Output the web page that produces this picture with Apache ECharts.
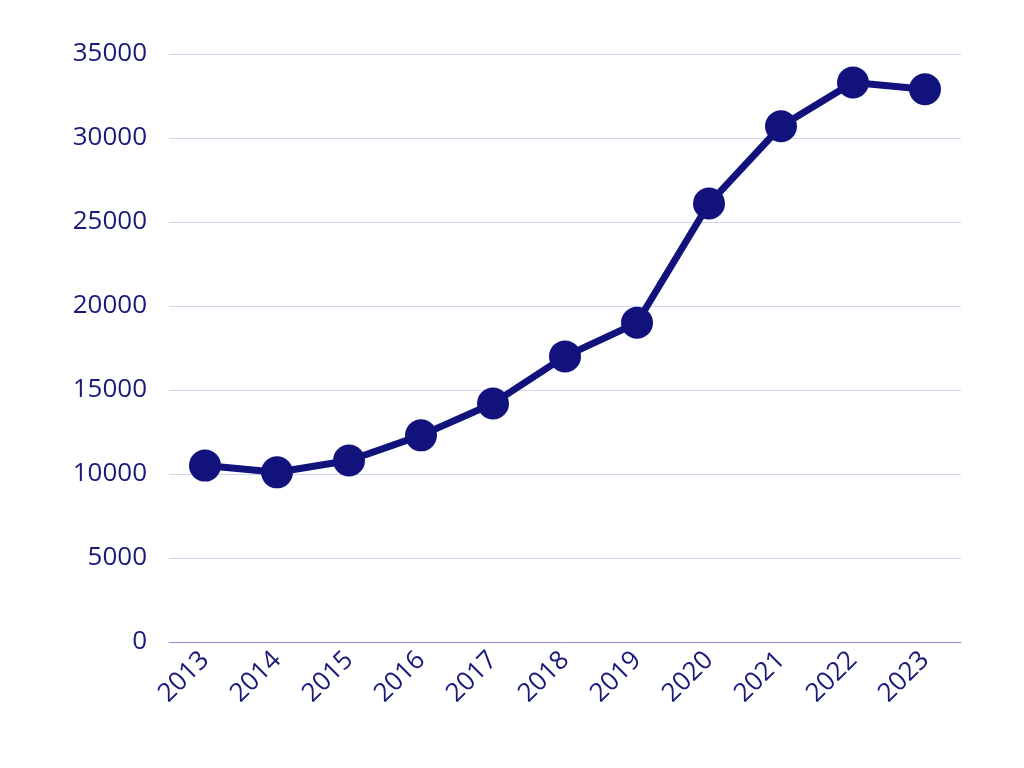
<!DOCTYPE html>
<html><head><meta charset="utf-8">
<script src="https://cdn.jsdelivr.net/npm/echarts@6/dist/echarts.min.js"></script>
<style>html,body{margin:0;padding:0;background:#fff}#c{width:1024px;height:768px}</style>
</head><body><div id="c"></div>
<script>
const years = ['2013','2014','2015','2016','2017','2018','2019','2020','2021','2022','2023'];
const values = [10500,10100,10800,12300,14200,17000,19000,26100,30700,33300,32900];
const chart = echarts.init(document.getElementById('c'));
chart.setOption({
  animation:false,
  grid:{left:169,right:63,top:54,bottom:126},
  xAxis:{type:'category',data:years,boundaryGap:true,
    axisLine:{lineStyle:{color:'#8f8fd0'}},axisTick:{show:false},
    axisLabel:{rotate:45,color:'#1a1a7a',fontSize:26,fontFamily:'Open Sans',margin:14}},
  yAxis:{type:'value',min:0,max:35000,interval:5000,
    axisLine:{show:false},axisTick:{show:false},
    splitLine:{lineStyle:{color:'#d4d4ee'}},
    axisLabel:{color:'#1a1a7a',fontSize:26,fontFamily:'Open Sans',margin:22,formatter:v=>String(v)}},
  series:[{type:'line',data:values,symbol:'circle',symbolSize:32,
    lineStyle:{width:7,color:'#12127d'},itemStyle:{color:'#12127d'}}]
});
</script></body></html>
